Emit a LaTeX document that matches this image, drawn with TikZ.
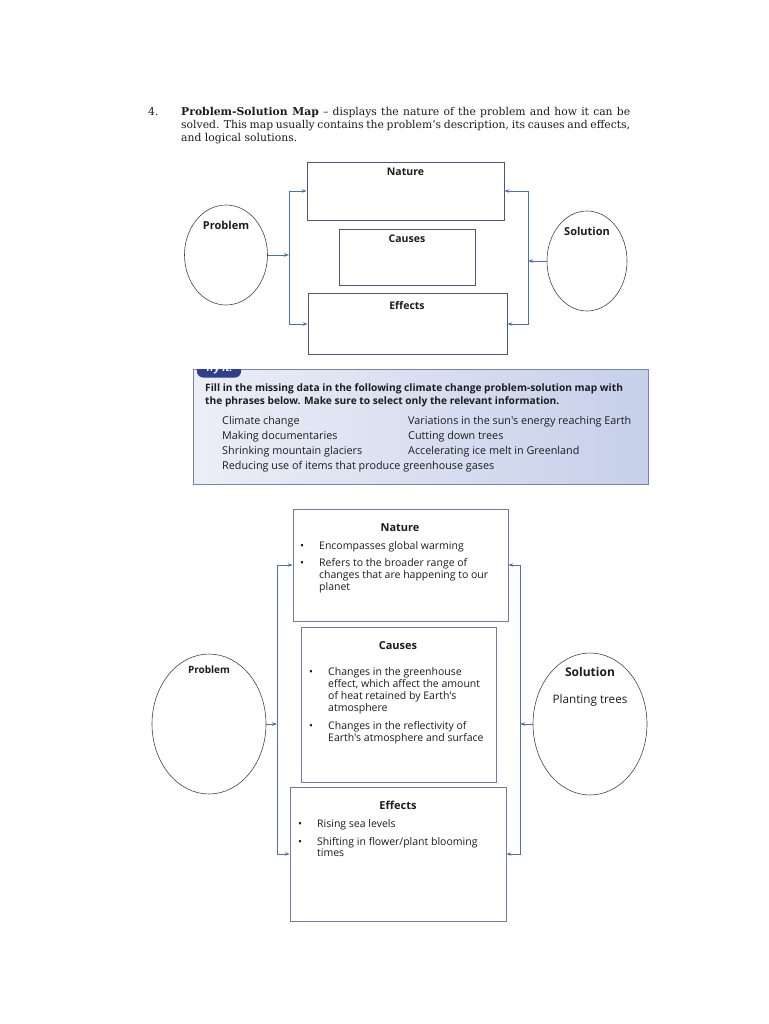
\documentclass[tikz,border=0pt]{standalone}
\usepackage{fontspec}
\setmainfont{DejaVu Serif}
\newfontfamily\diag{Open Sans}
\usetikzlibrary{shapes.geometric,arrows.meta}
\definecolor{boxc}{HTML}{4A5684}
\definecolor{boxb}{HTML}{6E7BAA}
\definecolor{conc}{HTML}{4F6DB0}
\definecolor{elc}{HTML}{3E4460}
\definecolor{txt}{HTML}{1C1C1C}
\definecolor{tryl}{HTML}{ECEEF7}
\definecolor{tryr}{HTML}{C6D0EA}
\definecolor{trybord}{HTML}{7584B2}
\definecolor{badge}{HTML}{2E3F8C}
\newcommand{\vlines}[1]{\vtop{\halign{##\hfil\cr#1\crcr}}}
\tikzset{
  topbox/.style={draw=boxc,line width=0.7pt,rectangle,inner sep=0pt},
  botbox/.style={draw=boxb,line width=0.7pt,rectangle,inner sep=0pt},
  oval/.style={draw=elc,line width=0.6pt,ellipse,inner sep=0pt},
  conn/.style={draw=conc,line width=0.7pt,-{Stealth[length=5pt,width=3.5pt]}},
  ttl/.style={font=\diag\bfseries\fontsize{11}{13}\selectfont,text=txt,inner sep=0pt},
  body/.style={font=\diag\fontsize{10.5}{12}\selectfont,text=txt,inner sep=0pt,anchor=base west},
  bul/.style={font=\diag\fontsize{10.5}{12}\selectfont,text=txt,inner sep=0pt,anchor=base west},
  tryt/.style={font=\diag\fontsize{10.8}{13}\selectfont,text=txt,inner sep=0pt,anchor=base west},
  tryhead/.style={font=\diag\bfseries\fontsize{10.2}{12}\selectfont,text=txt,inner sep=0pt,anchor=base west}
}
\begin{document}
\begin{tikzpicture}[x=1pt,y=-1pt]
\useasboundingbox (0,0) rectangle (768,1024);
\fill[white] (0,0) rectangle (768,1024);

% header paragraph
\node[anchor=base west,inner sep=0pt,text=txt,font=\fontsize{10.8}{13}\selectfont] (num) at (148,116) {4.};
\node[anchor=base west,inner sep=0pt,text=txt,font=\fontsize{10.8}{13}\selectfont,text width=449pt,align=justify] (intro) at (181,116)
 {\textbf{Problem-Solution Map} -- displays the nature of the problem and how it can be\linebreak solved. This map usually contains the problem's description, its causes and effects,\linebreak and logical solutions.};

% ---------- top (empty) map ----------
\node[topbox,minimum width=197pt,minimum height=58pt] (nat1) at (405.5,191) {};
\node[topbox,minimum width=136pt,minimum height=56pt] (cau1) at (407,257) {};
\node[topbox,minimum width=199pt,minimum height=61pt] (eff1) at (407.5,324) {};
\node[ttl,font=\diag\bfseries\fontsize{10.5}{12}\selectfont] (nat1t) at (405.5,172) {Nature};
\node[ttl,font=\diag\bfseries\fontsize{10.5}{12}\selectfont] (cau1t) at (407,239) {Causes};
\node[ttl,font=\diag\bfseries\fontsize{10.5}{12}\selectfont] (eff1t) at (407,306) {Effects};
\node[oval,minimum width=83pt,minimum height=100pt] (prob1) at (226,255) {};
\node[oval,minimum width=80pt,minimum height=100pt] (sol1) at (587,261) {};
\node[ttl] (prob1t) at (226,225) {Problem};
\node[ttl] (sol1t) at (587,231) {Solution};
\coordinate (jl1) at (289,255);
\coordinate (jr1) at (528,261);
\draw[conn] (prob1.east) -- (jl1);
\draw[conn] (jl1) |- (nat1.west);
\draw[conn] (jl1) |- (eff1.west);
\draw[conn] (sol1.west) -- (jr1);
\draw[conn] (jr1) |- (nat1.east);
\draw[conn] (jr1) |- (eff1.east);

% ---------- Try it box ----------
\shade[left color=tryl,right color=tryr] (193,369) rectangle (648,484);
\draw[draw=trybord,line width=0.9pt] (193,369) rectangle (648,484);
\begin{scope}
\clip (150,369) rectangle (300,400);
\node[fill=badge,rounded corners=6pt,minimum width=44pt,minimum height=17pt,inner sep=0pt,text=white,font=\diag\bfseries\itshape\fontsize{10}{12}\selectfont] (badge) at (219,369) {Try It!};
\end{scope}
\node[tryhead] (fill1) at (205,391) {Fill in the missing data in the following climate change problem-solution map with};
\node[tryhead] (fill2) at (205,404) {the phrases below. Make sure to select only the relevant information.};
\node[tryt] (o1) at (222,424) {Climate change};
\node[tryt] (o2) at (408,424) {Variations in the sun's energy reaching Earth};
\node[tryt] (o3) at (222,439) {Making documentaries};
\node[tryt] (o4) at (408,439) {Cutting down trees};
\node[tryt] (o5) at (222,454) {Shrinking mountain glaciers};
\node[tryt] (o6) at (408,454) {Accelerating ice melt in Greenland};
\node[tryt] (o7) at (222,469) {Reducing use of items that produce greenhouse gases};

% ---------- bottom (filled) map ----------
\node[botbox,minimum width=215pt,minimum height=112pt] (nat2) at (400.5,565) {};
\node[botbox,minimum width=195pt,minimum height=155pt] (cau2) at (398.5,704.5) {};
\node[botbox,minimum width=216pt,minimum height=134pt] (eff2) at (398,854) {};
\node[ttl] (nat2t) at (400,528) {Nature};
\node[bul] (nb1) at (300,549) {•};
\node[body] (nt1) at (319,549) {Encompasses global warming};
\node[bul] (nb2) at (300,566) {•};
\node[body] (nt2) at (319,566) {\vlines{Refers to the broader range of\cr changes that are happening to our\cr planet}};

\node[ttl] (cau2t) at (398,646) {Causes};
\node[bul] (cb1) at (309,675) {•};
\node[body] (ct1) at (328,675) {\vlines{Changes in the greenhouse\cr effect, which affect the amount\cr of heat retained by Earth's\cr atmosphere}};
\node[bul] (cb2) at (309,729) {•};
\node[body] (ct2) at (328,729) {\vlines{Changes in the reflectivity of\cr Earth's atmosphere and surface}};

\node[ttl] (eff2t) at (398,805) {Effects};
\node[bul] (eb1) at (298,827) {•};
\node[body] (et1) at (317,827) {Rising sea levels};
\node[bul] (eb2) at (298,845) {•};
\node[body,font=\diag\fontsize{10.5}{11.5}\selectfont] (et2) at (317,845) {\vlines{Shifting in flower/plant blooming\cr times}};

\node[oval,minimum width=114pt,minimum height=140pt] (prob2) at (209,724) {};
\node[oval,minimum width=114pt,minimum height=142pt] (sol2) at (590,724) {};
\node[ttl,font=\diag\bfseries\fontsize{10}{12}\selectfont] (prob2t) at (209,670) {Problem};
\node[ttl,font=\diag\bfseries\fontsize{12}{14}\selectfont] (sol2t) at (590,672) {Solution};
\node[inner sep=0pt,text=txt,font=\diag\fontsize{11.7}{14}\selectfont] (sol2x) at (590,700) {Planting trees};
\coordinate (jl2) at (277,724);
\coordinate (jr2) at (520,724);
\draw[conn] (prob2.east) -- (jl2);
\draw[conn] (jl2) |- (nat2.west);
\draw[conn] (jl2) |- (eff2.west);
\draw[conn] (sol2.west) -- (jr2);
\draw[conn] (jr2) |- (nat2.east);
\draw[conn] (jr2) |- (eff2.east);
\end{tikzpicture}
\end{document}
